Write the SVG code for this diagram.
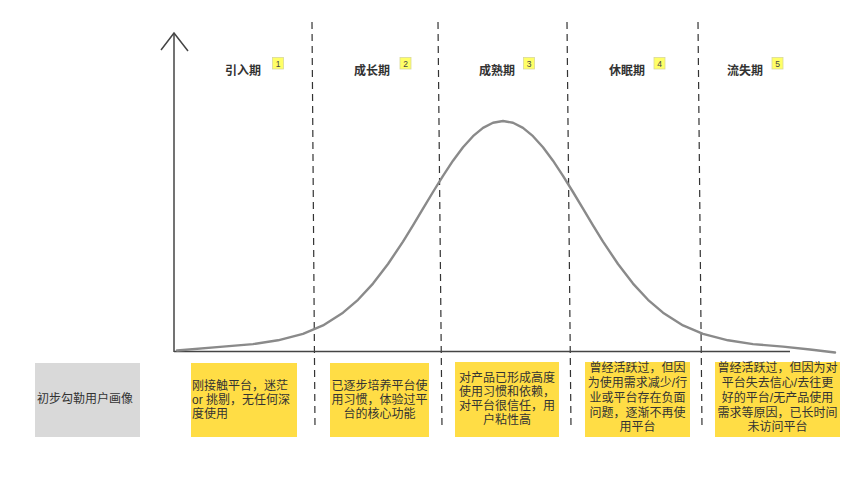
<svg xmlns="http://www.w3.org/2000/svg" width="865" height="489" viewBox="0 0 865 489">
<style>
.t{font-family:"Liberation Sans","Noto Sans CJK SC",sans-serif;font-size:12px;fill:#333}
.h{font-family:"Liberation Sans","Noto Sans CJK SC",sans-serif;font-size:12px;font-weight:bold;fill:#333;text-anchor:middle}
.c{text-anchor:middle}
.yb{fill:#ffdd45}
.badge{fill:#ffff66;stroke:#d9d99a;stroke-width:0.8}
.bn{font-family:"Liberation Sans",sans-serif;font-size:8.5px;fill:#444;text-anchor:middle}
.dash{stroke:#333;stroke-width:1.2;stroke-dasharray:7 5;fill:none}
.axis{stroke:#444;stroke-width:1.5;fill:none}
</style>
<rect width="865" height="489" fill="#fff"/>
<g id="connectors">
<line class="dash" x1="312" y1="22" x2="315" y2="428"/>
<line class="dash" x1="438" y1="22" x2="442" y2="428"/>
<line class="dash" x1="567" y1="22" x2="571" y2="428"/>
<line class="dash" x1="698" y1="22" x2="702" y2="428"/>
<polyline class="axis" points="161,50 174,33 188,51"/>
<line class="axis" x1="174" y1="33" x2="174" y2="352"/>
<line class="axis" x1="174" y1="351.5" x2="790" y2="351.5"/>
<path d="M177,350.5 L223,346.6 L253,344.1 L278,340.3 L303,333.8 L323,325.4 L343,312.7 L358,299.8 L373,283.6 L388,264 L403,241.6 L413,225.4 L423,208.7 L433,192 L443,175.8 L453,160.7 L463,147.3 L473,136.2 L483,127.9 L493,122.7 L503,121 L513,122.7 L523,127.9 L533,136.2 L543,147.3 L553,160.7 L563,175.8 L573,192 L583,208.7 L593,225.4 L603,241.6 L618,264 L633,283.6 L648,299.8 L663,312.7 L683,325.4 L703,333.8 L728,340.3 L753,344.1 L783,346.6 L810,349.5 L835,352.5" fill="none" stroke="#8a8a8a" stroke-width="2.4" stroke-linejoin="round" stroke-linecap="round"/>
</g>
<g id="stage1">
<text class="h" x="243" y="75">引入期</text>
<rect class="badge" x="272.5" y="57.5" width="11" height="11.5"/>
<text class="bn" x="278" y="66.5">1</text>
</g>
<g id="stage2">
<text class="h" x="372" y="75">成长期</text>
<rect class="badge" x="400" y="57.5" width="11" height="11.5"/>
<text class="bn" x="405.5" y="66.5">2</text>
</g>
<g id="stage3">
<text class="h" x="497" y="75">成熟期</text>
<rect class="badge" x="523.5" y="57.5" width="11" height="11.5"/>
<text class="bn" x="529" y="66.5">3</text>
</g>
<g id="stage4">
<text class="h" x="627" y="75">休眠期</text>
<rect class="badge" x="654" y="57.5" width="11" height="11.5"/>
<text class="bn" x="659.5" y="66.5">4</text>
</g>
<g id="stage5">
<text class="h" x="745" y="75">流失期</text>
<rect class="badge" x="772" y="57.5" width="11" height="11.5"/>
<text class="bn" x="777.5" y="66.5">5</text>
</g>
<g id="persona-label">
<rect x="35" y="363" width="105" height="74" fill="#d9d9d9"/>
<text class="t c" x="85" y="402.5">初步勾勒用户画像</text>
</g>
<g id="persona1">
<rect class="yb" x="191" y="363" width="106" height="74"/>
<text class="t"><tspan x="192" y="389.5">刚接触平台，迷茫</tspan><tspan x="192" y="403.5">or 挑剔，无任何深</tspan><tspan x="192" y="417.5">度使用</tspan></text>
</g>
<g id="persona2">
<rect class="yb" x="330" y="363" width="99" height="74"/>
<text class="t c"><tspan x="379.5" y="389.5">已逐步培养平台使</tspan><tspan x="379.5" y="403.5">用习惯，体验过平</tspan><tspan x="379.5" y="417.5">台的核心功能</tspan></text>
</g>
<g id="persona3">
<rect class="yb" x="455" y="362" width="104" height="75"/>
<text class="t c"><tspan x="507" y="381.5">对产品已形成高度</tspan><tspan x="507" y="395.5">使用习惯和依赖，</tspan><tspan x="507" y="409.5">对平台很信任，用</tspan><tspan x="507" y="423.5">户粘性高</tspan></text>
</g>
<g id="persona4">
<rect class="yb" x="585" y="362" width="105" height="75"/>
<text class="t c"><tspan x="637.5" y="372">曾经活跃过，但因</tspan><tspan x="637.5" y="387">为使用需求减少/行</tspan><tspan x="637.5" y="401.5">业或平台存在负面</tspan><tspan x="637.5" y="416.5">问题，逐渐不再使</tspan><tspan x="637.5" y="431">用平台</tspan></text>
</g>
<g id="persona5">
<rect class="yb" x="715" y="362" width="125" height="75"/>
<text class="t c"><tspan x="777.5" y="372">曾经活跃过，但因为对</tspan><tspan x="777.5" y="387">平台失去信心/去往更</tspan><tspan x="777.5" y="401.5">好的平台/无产品使用</tspan><tspan x="777.5" y="416.5">需求等原因，已长时间</tspan><tspan x="777.5" y="431">未访问平台</tspan></text>
</g>
</svg>
